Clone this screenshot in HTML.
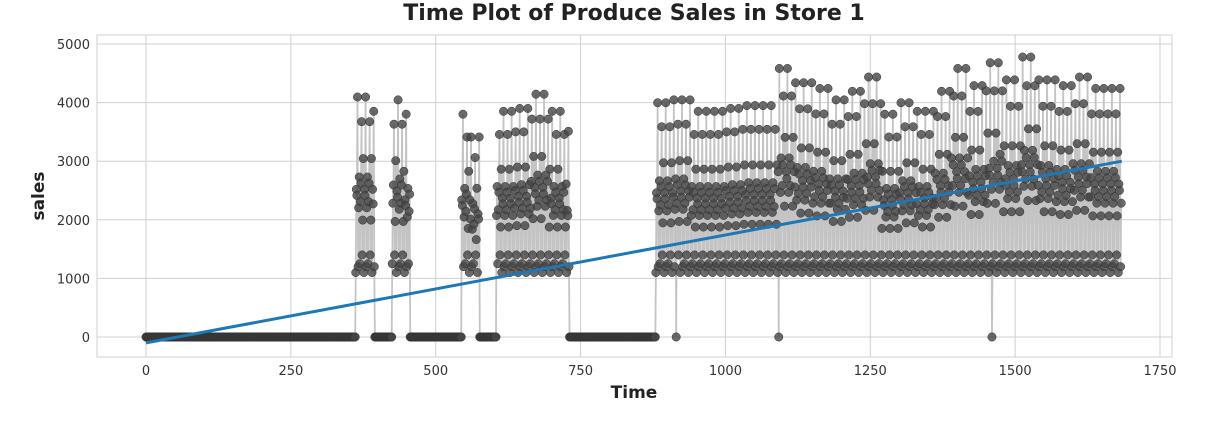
<!DOCTYPE html>
<html><head><meta charset="utf-8"><style>
body{margin:0;background:#fff;font-family:"Liberation Sans","DejaVu Sans",sans-serif}
svg text{font-family:"DejaVu Sans","Liberation Sans",sans-serif}
</style></head><body>
<svg id="c" width="1222" height="416" xmlns="http://www.w3.org/2000/svg"></svg>
<script>
// estimated data
const activeSegments=[[362,395],[425,456],[545,576],[605,731],[880,1684]];
const zeroDays=[915,1092,1460];
const dayPattern=[2300,3900,1200,2100,2600,1250,2200,2500,3500,1400,1900,2900,1100,2400];
const blockStart=[362,392,425,445,545,560,605,635,665,695,725,880,910,940,970,1000,1030,1060,1090,1120,1150,1180,1210,1240,1270,1300,1330,1360,1390,1420,1450,1480,1510,1540,1570,1600,1630,1660];
const blockPeak=[4200,3950,4150,3900,3900,3500,3950,4000,4250,3950,3600,4100,4150,3950,3950,4000,4050,4050,4700,4450,4350,4150,4300,4550,3900,4100,3950,4300,4700,4400,4800,4500,4900,4500,4400,4550,4350,4350];
const trendStart=[0,-100], trendEnd=[1684,3000];
const xTicks=[0,250,500,750,1000,1250,1500,1750];
const yTicks=[0,1000,2000,3000,4000,5000];
const N=1684;
const sales=[];
for(let i=0;i<N;i++){
  let v=0, active=false;
  activeSegments.forEach(s=>{if(i>=s[0]&&i<s[1]) active=true;});
  if(active){
    let pk=blockPeak[0];
    blockStart.forEach((b,k)=>{if(i>=b) pk=blockPeak[k];});
    const base=dayPattern[i%14];
    v=base<1500?base:base*pk/4000;
  }
  if(zeroDays.includes(i)) v=0;
  sales.push(v);
}
const L=97,R=1172,T=35,B=357;
const X=v=>146+v*(1160-146)/1750;
const Y=v=>337-v*(337-44)/5000;
const svg=document.getElementById('c');const NS='http://www.w3.org/2000/svg';
function mk(t,a,p){const e=document.createElementNS(NS,t);for(const k in a)e.setAttribute(k,a[k]);(p||svg).appendChild(e);return e;}
const g=mk('g',{});


xTicks.forEach(t=>{mk('line',{x1:X(t),x2:X(t),y1:T,y2:B,stroke:'#d0d0d0','stroke-width':1},g);
 const tx=mk('text',{x:X(t),y:375,'font-size':13,fill:'#333','text-anchor':'middle'});tx.textContent=t;
 
 });
yTicks.forEach(t=>{mk('line',{x1:L,x2:R,y1:Y(t),y2:Y(t),stroke:'#d0d0d0','stroke-width':1},g);
 const tx=mk('text',{x:90,y:Y(t)+5,'font-size':13,fill:'#333','text-anchor':'end'});tx.textContent=t;
 
 });
const fr=mk('rect',{x:L,y:T,width:R-L,height:B-T,fill:'none',stroke:'#d0d0d0'});


let d='';sales.forEach((v,i)=>{d+=(i?'L':'M')+X(i).toFixed(2)+' '+Y(v).toFixed(2);});
const ln=mk('path',{d:d,fill:'none',stroke:'#c4c4c4','stroke-width':1.8});


const pg=mk('g',{fill:'#454545','fill-opacity':0.8,stroke:'#333','stroke-width':0.5});


sales.forEach((v,i)=>{mk('circle',{cx:X(i),cy:Y(v),r:4.2},pg);});
const tr=mk('line',{x1:X(trendStart[0]),y1:Y(trendStart[1]),x2:X(trendEnd[0]),y2:Y(trendEnd[1]),stroke:'#1f77b4','stroke-width':3});


const ti=mk('text',{x:634,y:20,'font-size':22,'font-weight':'bold',fill:'#222','text-anchor':'middle'});ti.textContent='Time Plot of Produce Sales in Store 1';


const xt=mk('text',{x:634,y:398,'font-size':17,'font-weight':'bold',fill:'#222','text-anchor':'middle'});xt.textContent='Time';


const yt=mk('text',{x:44,y:196,'font-size':17,'font-weight':'bold',fill:'#222','text-anchor':'middle',transform:'rotate(-90 44 196)'});yt.textContent='sales';


</script>
</body></html>
